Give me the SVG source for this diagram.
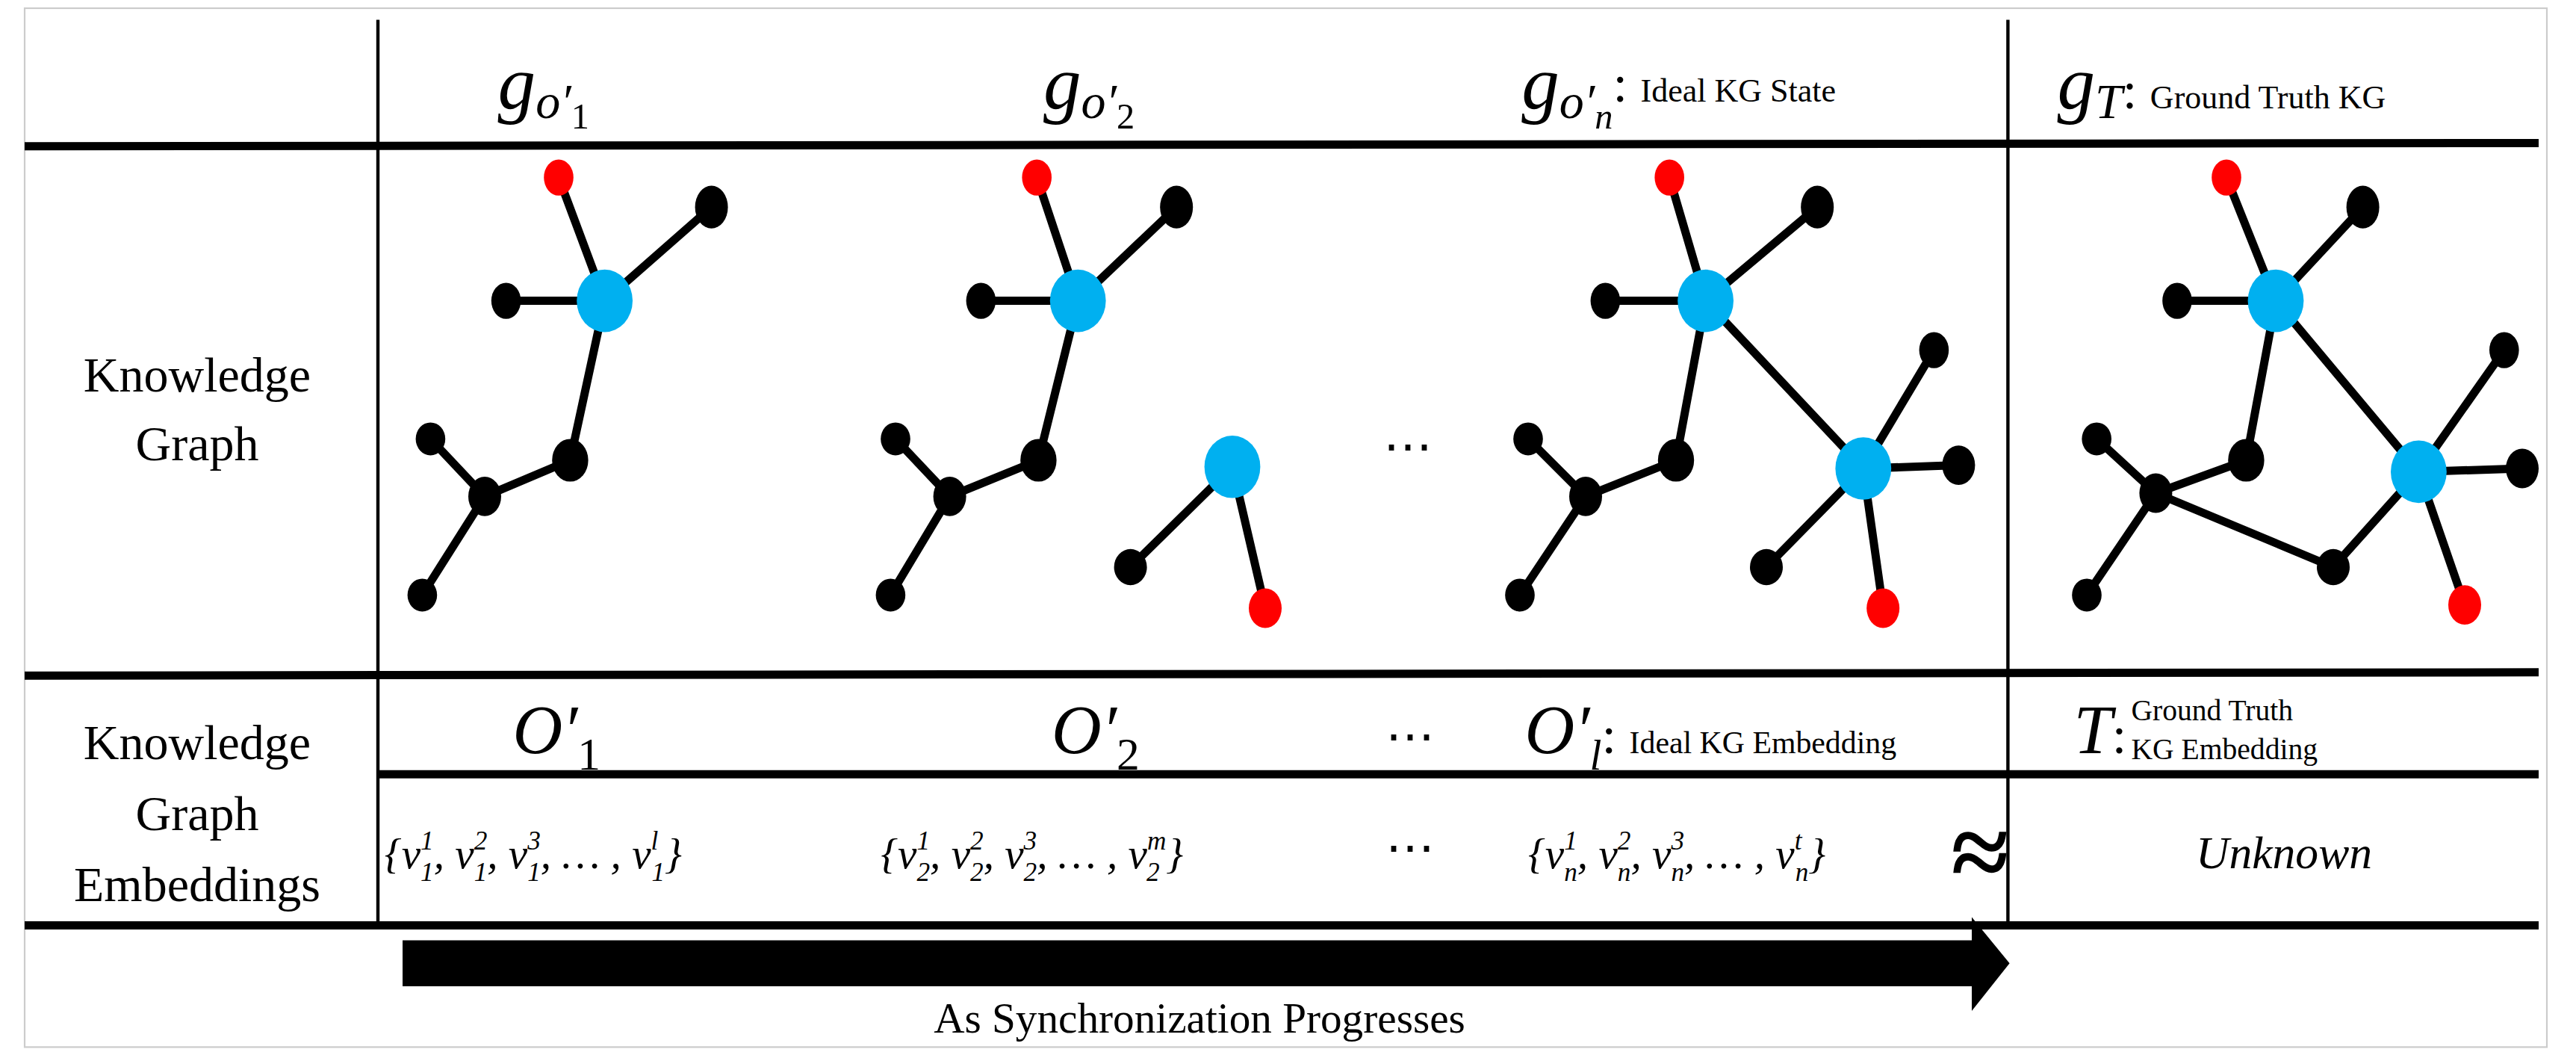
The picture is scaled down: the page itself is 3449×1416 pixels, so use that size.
<svg xmlns="http://www.w3.org/2000/svg" width="3449" height="1416" viewBox="0 0 3449 1416">
<style>
.t{font-family:"Liberation Serif","DejaVu Serif","Noto Serif",serif;fill:#000}
.m{font-family:"Liberation Serif","DejaVu Serif","Noto Serif",serif;font-style:italic;fill:#000}
.r{font-style:normal}
.e{stroke:#000;stroke-width:5;stroke-linecap:round}
.b{fill:#000}.c{fill:#00B0F0}.d{fill:#FF0000}
.ln{stroke:#000}
</style>
<rect width="3449" height="1416" fill="#fff"/>
<g transform="scale(2.2)">
<g id="table">
<rect x="15" y="5" width="1535" height="632" fill="none" stroke="#ccc" stroke-width="1"/>
<line class="ln" x1="230" y1="12" x2="230" y2="562" stroke-width="2"/>
<line class="ln" x1="1222" y1="12" x2="1222" y2="562" stroke-width="2"/>
<line class="ln" x1="15" y1="89" x2="1545" y2="87" stroke-width="5"/>
<line class="ln" x1="15" y1="411" x2="1545" y2="409" stroke-width="5"/>
<line class="ln" x1="230" y1="471" x2="1545" y2="471" stroke-width="5"/>
<line class="ln" x1="15" y1="563" x2="1545" y2="563" stroke-width="5"/>
</g>
<g id="row-labels" class="t" font-size="30" text-anchor="middle">
<text x="120" y="238">Knowledge</text>
<text x="120" y="280">Graph</text>
<text x="120" y="462">Knowledge</text>
<text x="120" y="505">Graph</text>
<text x="120" y="548">Embeddings</text>
</g>
<g id="headers">
<text class="m" x="303" y="66" font-size="46">g<tspan font-size="30" dy="6">o′</tspan><tspan class="r" font-size="22" dy="6">1</tspan></text>
<text class="m" x="635" y="66" font-size="46">g<tspan font-size="30" dy="6">o′</tspan><tspan class="r" font-size="22" dy="6">2</tspan></text>
<text class="m" x="926" y="66" font-size="46">g<tspan font-size="30" dy="6">o′</tspan><tspan font-size="22" dy="6">n</tspan><tspan class="r" font-size="32" dy="-16">: </tspan><tspan class="r" font-size="20">Ideal KG State</tspan></text>
<text class="m" x="1252" y="66" font-size="46">g<tspan font-size="30" dy="6">T</tspan><tspan class="r" font-size="32" dy="-6">: </tspan><tspan class="r" font-size="20">Ground Truth KG</tspan></text>
</g>
<g id="graph1">
<g class="e"><line x1="340" y1="108" x2="368" y2="183"/><line x1="433" y1="126" x2="368" y2="183"/><line x1="308" y1="183" x2="368" y2="183"/><line x1="368" y1="183" x2="347" y2="280"/><line x1="347" y1="280" x2="295" y2="302"/><line x1="295" y1="302" x2="262" y2="267"/><line x1="295" y1="302" x2="257" y2="362"/></g>
<ellipse class="d" cx="340" cy="108" rx="9" ry="11"/><ellipse class="b" cx="433" cy="126" rx="10" ry="13"/><ellipse class="c" cx="368" cy="183" rx="17" ry="19"/><ellipse class="b" cx="308" cy="183" rx="9" ry="11"/><ellipse class="b" cx="347" cy="280" rx="11" ry="13"/><ellipse class="b" cx="295" cy="302" rx="10" ry="12"/><ellipse class="b" cx="262" cy="267" rx="9" ry="10"/><ellipse class="b" cx="257" cy="362" rx="9" ry="10"/>
</g>
<g id="graph2">
<g class="e"><line x1="631" y1="108" x2="656" y2="183"/><line x1="716" y1="126" x2="656" y2="183"/><line x1="597" y1="183" x2="656" y2="183"/><line x1="656" y1="183" x2="632" y2="280"/><line x1="632" y1="280" x2="578" y2="302"/><line x1="578" y1="302" x2="545" y2="267"/><line x1="578" y1="302" x2="542" y2="362"/><line x1="750" y1="284" x2="688" y2="345"/><line x1="750" y1="284" x2="770" y2="370"/></g>
<ellipse class="d" cx="631" cy="108" rx="9" ry="11"/><ellipse class="b" cx="716" cy="126" rx="10" ry="13"/><ellipse class="c" cx="656" cy="183" rx="17" ry="19"/><ellipse class="b" cx="597" cy="183" rx="9" ry="11"/><ellipse class="b" cx="632" cy="280" rx="11" ry="13"/><ellipse class="b" cx="578" cy="302" rx="10" ry="12"/><ellipse class="b" cx="545" cy="267" rx="9" ry="10"/><ellipse class="b" cx="542" cy="362" rx="9" ry="10"/>
<ellipse class="c" cx="750" cy="284" rx="17" ry="19"/><ellipse class="b" cx="688" cy="345" rx="10" ry="11"/><ellipse class="d" cx="770" cy="370" rx="10" ry="12"/>
</g>
<g id="dots-graph"><text class="t" x="857" y="282" font-size="30" text-anchor="middle">⋯</text></g>
<g id="graph3">
<g class="e"><line x1="1016" y1="108" x2="1038" y2="183"/><line x1="1106" y1="126" x2="1038" y2="183"/><line x1="977" y1="183" x2="1038" y2="183"/><line x1="1038" y1="183" x2="1020" y2="280"/><line x1="1020" y1="280" x2="965" y2="302"/><line x1="965" y1="302" x2="930" y2="267"/><line x1="965" y1="302" x2="925" y2="362"/><line x1="1038" y1="183" x2="1134" y2="285"/><line x1="1134" y1="285" x2="1177" y2="213"/><line x1="1134" y1="285" x2="1192" y2="283"/><line x1="1134" y1="285" x2="1075" y2="345"/><line x1="1134" y1="285" x2="1146" y2="370"/></g>
<ellipse class="d" cx="1016" cy="108" rx="9" ry="11"/><ellipse class="b" cx="1106" cy="126" rx="10" ry="13"/><ellipse class="c" cx="1038" cy="183" rx="17" ry="19"/><ellipse class="b" cx="977" cy="183" rx="9" ry="11"/><ellipse class="b" cx="1020" cy="280" rx="11" ry="13"/><ellipse class="b" cx="965" cy="302" rx="10" ry="12"/><ellipse class="b" cx="930" cy="267" rx="9" ry="10"/><ellipse class="b" cx="925" cy="362" rx="9" ry="10"/>
<ellipse class="c" cx="1134" cy="285" rx="17" ry="19"/><ellipse class="b" cx="1177" cy="213" rx="9" ry="11"/><ellipse class="b" cx="1192" cy="283" rx="10" ry="12"/><ellipse class="b" cx="1075" cy="345" rx="10" ry="11"/><ellipse class="d" cx="1146" cy="370" rx="10" ry="12"/>
</g>
<g id="graph4">
<g class="e"><line x1="1355" y1="108" x2="1385" y2="183"/><line x1="1438" y1="126" x2="1385" y2="183"/><line x1="1325" y1="183" x2="1385" y2="183"/><line x1="1385" y1="183" x2="1367" y2="280"/><line x1="1367" y1="280" x2="1312" y2="300"/><line x1="1312" y1="300" x2="1276" y2="267"/><line x1="1312" y1="300" x2="1270" y2="362"/><line x1="1385" y1="183" x2="1472" y2="287"/><line x1="1312" y1="300" x2="1420" y2="345"/><line x1="1420" y1="345" x2="1472" y2="287"/><line x1="1472" y1="287" x2="1524" y2="213"/><line x1="1472" y1="287" x2="1535" y2="285"/><line x1="1472" y1="287" x2="1500" y2="368"/></g>
<ellipse class="d" cx="1355" cy="108" rx="9" ry="11"/><ellipse class="b" cx="1438" cy="126" rx="10" ry="13"/><ellipse class="c" cx="1385" cy="183" rx="17" ry="19"/><ellipse class="b" cx="1325" cy="183" rx="9" ry="11"/><ellipse class="b" cx="1367" cy="280" rx="11" ry="13"/><ellipse class="b" cx="1312" cy="300" rx="10" ry="12"/><ellipse class="b" cx="1276" cy="267" rx="9" ry="10"/><ellipse class="b" cx="1270" cy="362" rx="9" ry="10"/>
<ellipse class="c" cx="1472" cy="287" rx="17" ry="19"/><ellipse class="b" cx="1524" cy="213" rx="9" ry="11"/><ellipse class="b" cx="1535" cy="285" rx="10" ry="12"/><ellipse class="b" cx="1420" cy="345" rx="10" ry="11"/><ellipse class="d" cx="1500" cy="368" rx="10" ry="12"/>
</g>
<g id="embeddings">
<text class="m" x="312" y="458" font-size="42">O′<tspan class="r" font-size="28" dy="10">1</tspan></text>
<text class="m" x="640" y="458" font-size="42">O′<tspan class="r" font-size="28" dy="10">2</tspan></text>
<text class="t" x="858" y="458" font-size="30" text-anchor="middle">⋯</text>
<text class="m" x="928" y="458" font-size="42">O′<tspan font-size="26" dy="10">l</tspan><tspan class="r" font-size="32" dy="-10">: </tspan><tspan class="r" font-size="19">Ideal KG Embedding</tspan></text>
<text class="m" x="1262" y="458" font-size="42">T<tspan class="r" font-size="32">:</tspan></text>
<text class="t" x="1297" y="438" font-size="18">Ground Truth</text>
<text class="t" x="1297" y="462" font-size="18">KG Embedding</text>
</g>
<g id="sets" font-size="26">
<text class="m" x="234" y="528">{v<tspan font-size="16" dy="-11">1</tspan><tspan font-size="16" dx="-8" dy="19">1</tspan><tspan dy="-8">, v</tspan><tspan font-size="16" dy="-11">2</tspan><tspan font-size="16" dx="-8" dy="19">1</tspan><tspan dy="-8">, v</tspan><tspan font-size="16" dy="-11">3</tspan><tspan font-size="16" dx="-8" dy="19">1</tspan><tspan dy="-8">, … , v</tspan><tspan font-size="16" dy="-11">l</tspan><tspan font-size="16" dx="-4" dy="19">1</tspan><tspan dy="-8">}</tspan></text>
<text class="m" x="536" y="528">{v<tspan font-size="16" dy="-11">1</tspan><tspan font-size="16" dx="-8" dy="19">2</tspan><tspan dy="-8">, v</tspan><tspan font-size="16" dy="-11">2</tspan><tspan font-size="16" dx="-8" dy="19">2</tspan><tspan dy="-8">, v</tspan><tspan font-size="16" dy="-11">3</tspan><tspan font-size="16" dx="-8" dy="19">2</tspan><tspan dy="-8">, … , v</tspan><tspan font-size="16" dy="-11">m</tspan><tspan font-size="16" dx="-12" dy="19">2</tspan><tspan dx="4" dy="-8">}</tspan></text>
<text class="t" x="858" y="526" font-size="30" text-anchor="middle">⋯</text>
<text class="m" x="930" y="528">{v<tspan font-size="16" dy="-11">1</tspan><tspan font-size="16" dx="-8" dy="19">n</tspan><tspan dy="-8">, v</tspan><tspan font-size="16" dy="-11">2</tspan><tspan font-size="16" dx="-8" dy="19">n</tspan><tspan dy="-8">, v</tspan><tspan font-size="16" dy="-11">3</tspan><tspan font-size="16" dx="-8" dy="19">n</tspan><tspan dy="-8">, … , v</tspan><tspan font-size="16" dy="-11">t</tspan><tspan font-size="16" dx="-4" dy="19">n</tspan><tspan dy="-8">}</tspan></text>
<text class="t" x="1205" y="540" font-size="64" text-anchor="middle" font-weight="bold">≈</text>
<text class="m" x="1390" y="528" text-anchor="middle" font-size="28">Unknown</text>
</g>
<g id="connectors">
<polygon points="245,572 1200,572 1200,558 1223,586 1200,615 1200,600 245,600" fill="#000"/>
</g>
<text class="t" x="730" y="628" font-size="26" text-anchor="middle">As Synchronization Progresses</text>
</g>
</svg>
